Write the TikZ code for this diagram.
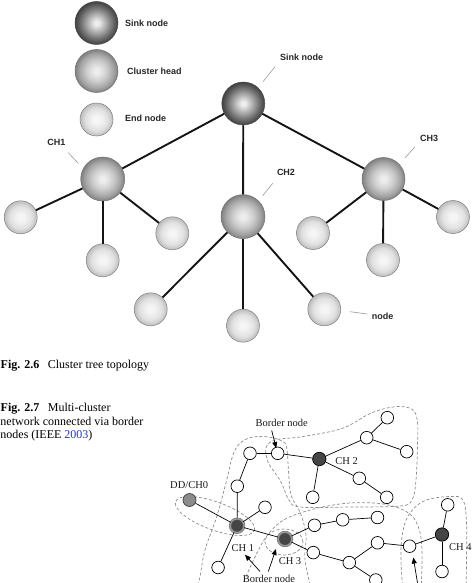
\documentclass[tikz,border=0pt]{standalone}
\usepackage{fontspec}
\setmainfont{Liberation Serif}
\newfontfamily\labfont{Liberation Sans}
\usetikzlibrary{arrows.meta}
\definecolor{sA}{gray}{0.93}
\definecolor{sB}{gray}{0.70}
\definecolor{sC}{gray}{0.42}
\definecolor{sD}{gray}{0.25}
\definecolor{cA}{gray}{0.93}
\definecolor{cB}{gray}{0.80}
\definecolor{cC}{gray}{0.64}
\definecolor{cD}{gray}{0.50}
\definecolor{eA}{gray}{0.96}
\definecolor{eB}{gray}{0.88}
\definecolor{eC}{gray}{0.74}
\definecolor{darkch}{gray}{0.27}
\definecolor{ddgray}{gray}{0.55}
\definecolor{dashgray}{gray}{0.55}
\definecolor{refblue}{rgb}{0.15,0.2,0.8}
\pgfdeclareradialshading{sinkshade}{\pgfpoint{0bp}{0bp}}{color(0bp)=(sA); color(2.5bp)=(sA); color(10bp)=(sB); color(19bp)=(sC); color(25bp)=(sD); color(50bp)=(sD)}
\pgfdeclareradialshading{chshade}{\pgfpoint{0bp}{0bp}}{color(0bp)=(cA); color(3bp)=(cA); color(12bp)=(cB); color(20bp)=(cC); color(25bp)=(cD); color(50bp)=(cD)}
\pgfdeclareradialshading{endshade}{\pgfpoint{0bp}{0bp}}{color(0bp)=(eA); color(5bp)=(eA); color(17bp)=(eB); color(25bp)=(eC); color(50bp)=(eC)}
\begin{document}
\begin{tikzpicture}[x=1pt,y=-1pt,
  sinkball/.style={circle,inner sep=0pt,minimum size=43pt,shading=sinkshade,draw=black!70,line width=0.5pt},
  chball/.style={circle,inner sep=0pt,minimum size=44pt,shading=chshade,draw=black!55,line width=0.5pt},
  endball/.style={circle,inner sep=0pt,minimum size=33pt,shading=endshade,draw=black!50,line width=0.5pt},
  tedge/.style={line width=1.9pt,draw=black!92},
  leader/.style={line width=0.6pt,draw=black!40},
  tlab/.style={font=\labfont\bfseries\fontsize{9}{10}\selectfont,text=black!85,inner sep=0pt},
  opn/.style={circle,inner sep=0pt,minimum size=12.6pt,draw=black,fill=white,line width=0.7pt},
  hd/.style={circle,inner sep=0pt,minimum size=13.4pt,draw=black,fill=darkch,line width=0.7pt},
  hdring/.style={circle,inner sep=0pt,minimum size=14pt,draw=black!60,double=black!40,double distance=1.5pt,line width=0.4pt,fill=darkch},
  ddn/.style={circle,inner sep=0pt,minimum size=13pt,draw=black!75,fill=ddgray,line width=0.7pt},
  bedge/.style={line width=0.7pt,draw=black},
  clus/.style={draw=dashgray,line width=0.7pt,dash pattern=on 3pt off 2pt},
  blab/.style={font=\fontsize{10.5}{12}\selectfont,text=black!90,inner sep=0pt},
  barrow/.style={line width=0.7pt,draw=black,-{Triangle[length=6pt,width=5pt]}},
  capt/.style={font=\fontsize{12}{13.7}\selectfont,inner sep=0pt,anchor=base west}]
\useasboundingbox (0,0) rectangle (474,583);
\begin{scope}
\clip (0,0) rectangle (474,583);
% ---------- legend ----------
\node[sinkball] (lsink) at (96.5,23) {};
\node[chball,minimum size=43pt] (lch) at (96.5,71) {};
\node[endball] (lend) at (96.5,119.5) {};
\node[tlab,anchor=west] (tlsink) at (125,23) {Sink node};
\node[tlab,anchor=west] (tlch) at (127,71) {Cluster head};
\node[tlab,anchor=west] (tlend) at (125,118.5) {End node};
% ---------- cluster tree ----------
\node[sinkball] (sink) at (243.3,103.5) {};
\node[chball] (ch1) at (102.7,179) {};
\node[chball] (ch2) at (243,216.6) {};
\node[chball,minimum size=43pt] (ch3) at (383.5,179) {};
\node[endball] (e11) at (20.7,217.3) {};
\node[endball] (e12) at (102.7,260.3) {};
\node[endball] (e13) at (172.3,233.3) {};
\node[endball] (e21) at (150.7,309.3) {};
\node[endball] (e22) at (243,325.7) {};
\node[endball] (e23) at (324.3,309.3) {};
\node[endball] (e31) at (313,233) {};
\node[endball] (e32) at (383,260) {};
\node[endball] (e33) at (453,217) {};
\draw[tedge] (sink) -- (ch1);
\draw[tedge] (sink) -- (ch2);
\draw[tedge] (sink) -- (ch3);
\draw[tedge] (ch1) -- (e11);
\draw[tedge] (ch1) -- (e12);
\draw[tedge] (ch1) -- (e13);
\draw[tedge] (ch2) -- (e21);
\draw[tedge] (ch2) -- (e22);
\draw[tedge] (ch2) -- (e23);
\draw[tedge] (ch3) -- (e31);
\draw[tedge] (ch3) -- (e32);
\draw[tedge] (ch3) -- (e33);
\node[tlab] (tsink) at (301.5,57) {Sink node};
\node[tlab] (tch1) at (56.5,142.7) {CH1};
\node[tlab] (tch2) at (286,172.7) {CH2};
\node[tlab] (tch3) at (429,138) {CH3};
\node[tlab] (tnode) at (382.5,316) {node};
\coordinate (ls1) at (275,66.7); \coordinate (ls2) at (263,81.7);
\coordinate (lc1a) at (68.3,152.7); \coordinate (lc1b) at (78.3,163.3);
\coordinate (lc2a) at (272.7,183.3); \coordinate (lc2b) at (262.7,195.7);
\coordinate (lc3a) at (415,146.7); \coordinate (lc3b) at (405,158);
\coordinate (lna) at (350,311.7); \coordinate (lnb) at (367.3,314);
\draw[leader] (ls1) -- (ls2);
\draw[leader] (lc1a) -- (lc1b);
\draw[leader] (lc2a) -- (lc2b);
\draw[leader] (lc3a) -- (lc3b);
\draw[leader] (lna) -- (lnb);
% ---------- captions ----------
\node[capt] (f26) at (0.5,368) {\textbf{Fig. 2.6}};
\node[capt] (c26) at (47.7,368) {Cluster tree topology};
\node[capt] (f27) at (0.5,411.5) {\textbf{Fig. 2.7}};
\node[capt] (c27a) at (47.7,411.5) {Multi-cluster};
\node[capt] (c27b) at (0.3,425.2) {network connected via border};
\node[capt] (c27c) at (0.3,438.9) {nodes (IEEE \textcolor{refblue}{2003})};
% ---------- multi-cluster network: cluster outlines ----------
\draw[clus, rotate around={-20:(215,516)}] (215,516) ellipse [x radius=42pt, y radius=14pt];
\draw[clus] (284,542) ellipse [x radius=19pt, y radius=13pt];
\draw[clus] plot[smooth, tension=0.6] coordinates {(196,595) (200,576.7) (205,550) (216.7,516.7) (226.7,480) (232,458) (238.3,445) (250,437.7) (266.7,436.7) (283.3,441.7) (287,450) (288.3,468.3) (291,495) (300,512) (306,535) (305,560) (312,592)};
\draw[clus] plot[smooth cycle, tension=0.6] coordinates {(268,462) (266,448) (275,440) (300,437) (333,431) (350,425) (367,415) (383,409) (400,406.5) (413,410) (417.5,422) (417.5,445) (416,480) (412,500) (400,506) (350,507) (300,507) (289,500) (281,482) (273,470)};
\draw[clus] plot[smooth, tension=0.6] coordinates {(238,595) (248,572) (257,553) (266,537) (278,524) (292,516) (318,508) (350,503) (383,504) (407,512) (418,526) (422,550) (421,592)};
\draw[clus] plot[smooth, tension=0.6] coordinates {(403,595) (401,560) (402,537) (408,516) (424,501) (450,496.5) (463,500) (466.5,523) (466.5,560) (466,595)};
% ---------- nodes ----------
\node[opn] (b1) at (250,453.3) {};
\node[opn] (bn) at (277.7,453.3) {};
\node[hd] (mch2) at (319.3,459) {};
\node[opn] (c21) at (366.7,437.7) {};
\node[opn] (c22) at (387.3,417.7) {};
\node[opn] (c23) at (406.7,451.7) {};
\node[opn] (c24) at (359.3,478.3) {};
\node[opn] (c25) at (386.7,497.3) {};
\node[opn] (c26) at (312.7,497.3) {};
\node[opn] (b2) at (237.3,486.2) {};
\node[ddn] (dd) at (189.5,500) {};
\node[hdring] (mch1) at (237.1,525.7) {};
\node[opn] (c11) at (265,507.3) {};
\node[hdring] (mch3) at (285,539) {};
\node[opn] (c12) at (218.1,567.5) {};
\node[opn] (c31) at (314.5,525.3) {};
\node[opn] (c32) at (342.7,519.8) {};
\node[opn] (c33) at (377.5,517.5) {};
\node[opn] (c34) at (313.3,552.6) {};
\node[opn] (c35) at (349.3,562.6) {};
\node[opn] (c36) at (375.8,580) {};
\node[opn] (c37) at (377.5,542.8) {};
\node[opn] (bn2) at (409.6,546.2) {};
\node[hd] (mch4) at (442,534.5) {};
\node[opn] (c41) at (447.7,504.8) {};
\node[opn] (c42) at (442,571.5) {};
% ---------- links ----------
\draw[bedge] (b1) -- (bn);
\draw[bedge] (b1) -- (b2);
\draw[bedge] (b2) -- (mch1);
\draw[bedge] (mch1) -- (dd);
\draw[bedge] (mch1) -- (c11);
\draw[bedge] (mch1) -- (mch3);
\draw[bedge] (mch1) -- (c12);
\draw[bedge] (bn) -- (mch2);
\draw[bedge] (mch2) -- (c21);
\draw[bedge] (c21) -- (c22);
\draw[bedge] (c21) -- (c23);
\draw[bedge] (mch2) -- (c24);
\draw[bedge] (c24) -- (c25);
\draw[bedge] (mch2) -- (c26);
\draw[bedge] (mch3) -- (c31);
\draw[bedge] (c31) -- (c32);
\draw[bedge] (c32) -- (c33);
\draw[bedge] (mch3) -- (c34);
\draw[bedge] (c34) -- (c35);
\draw[bedge] (c35) -- (c36);
\draw[bedge] (c35) -- (c37);
\draw[bedge] (c37) -- (bn2);
\draw[bedge] (bn2) -- (mch4);
\draw[bedge] (mch4) -- (c41);
\draw[bedge] (mch4) -- (c42);
% ---------- labels and arrows ----------
\node[blab] (tbn1) at (281.7,423.3) {Border node};
\node[blab] (tmch2) at (346.7,461) {CH 2};
\node[blab] (tdd) at (189.2,485.3) {DD/CH0};
\node[blab] (tmch1) at (242.8,548.3) {CH 1};
\node[blab] (tmch3) at (290,561.5) {CH 3};
\node[blab] (tbn2) at (269,578.5) {Border node};
\node[blab,anchor=west] (tmch4) at (449,547.3) {CH 4};
\coordinate (a1s) at (271.7,430.5); \coordinate (a1e) at (276.2,448);
\coordinate (a2s) at (260,571.5); \coordinate (a2e) at (245,554.7);
\coordinate (a3s) at (268.3,571.5); \coordinate (a3e) at (276,549);
\coordinate (a4s) at (419,592); \coordinate (a4e) at (413.3,557.5);
\draw[barrow] (a1s) -- (a1e);
\draw[barrow] (a2s) -- (a2e);
\draw[barrow] (a3s) -- (a3e);
\draw[barrow] (a4s) -- (a4e);
\end{scope}
\end{tikzpicture}
\end{document}
